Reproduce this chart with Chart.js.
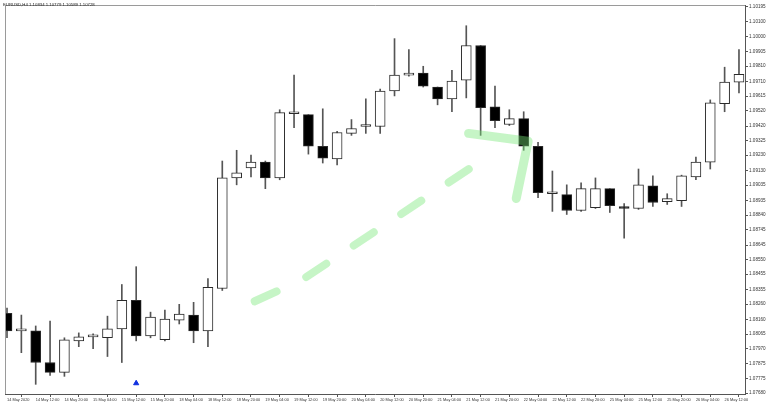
<!DOCTYPE html>
<html>
<head>
<meta charset="utf-8">
<title>EURUSD,H4</title>
<script src="https://cdn.jsdelivr.net/npm/chart.js@4.4.1/dist/chart.umd.min.js"></script>
<style>
  html, body { margin: 0; padding: 0; background: #fff; }
  #wrap { position: relative; width: 768px; height: 406px; }
  #caption { position: absolute; left: 3px; top: 2px; font: 4.3px "Liberation Sans", Arial, sans-serif; color: #222; white-space: nowrap; }
</style>
</head>
<body>
<div id="wrap">
  <canvas id="chart" width="768" height="406"></canvas>
  <div id="caption">EURUSD,H4 1.10834 1.10779 1.10589 1.10728</div>
</div>
<script>
// time labels, one every second H4 bar
const dateLabels = [
    '14 May 2020', '14 May 12:00', '14 May 20:00', '15 May 04:00', '15 May 12:00', '15 May 20:00',
    '18 May 04:00', '18 May 12:00', '18 May 20:00', '19 May 04:00', '19 May 12:00', '19 May 20:00',
    '20 May 04:00', '20 May 12:00', '20 May 20:00', '21 May 04:00', '21 May 12:00', '21 May 20:00',
    '22 May 04:00', '22 May 12:00', '22 May 20:00', '25 May 04:00', '25 May 12:00', '25 May 20:00',
    '26 May 04:00', '26 May 12:00'
];

const priceTicks = [
    1.10195, 1.10100, 1.10000, 1.09905, 1.09810, 1.09710, 1.09615, 1.09520, 1.09420,
    1.09325, 1.09230, 1.09130, 1.09035, 1.08935, 1.08840, 1.08745, 1.08645, 1.08550,
    1.08455, 1.08355, 1.08260, 1.08160, 1.08065, 1.07970, 1.07875, 1.07775, 1.07680
];

const opens = [
    1.08201, 1.08086, 1.08086, 1.07880, 1.07816, 1.08021, 1.08047, 1.08041, 1.08099, 1.08285,
    1.08054, 1.08028, 1.08156, 1.08189, 1.08086, 1.08362, 1.09082, 1.09147, 1.09185, 1.09082,
    1.09500, 1.09494, 1.09288, 1.09205, 1.09372, 1.09417, 1.09417, 1.09648, 1.09751, 1.09764,
    1.09674, 1.09597, 1.09719, 1.09944, 1.09545, 1.09430, 1.09468, 1.09288, 1.08979, 1.08973,
    1.08870, 1.08889, 1.09012, 1.08896, 1.08883, 1.09031, 1.08928, 1.08934, 1.09089, 1.09185,
    1.09565, 1.09706
];
const closes = [
    1.08086, 1.08086, 1.07880, 1.07816, 1.08028, 1.08047, 1.08047, 1.08099, 1.08285, 1.08054,
    1.08176, 1.08163, 1.08195, 1.08086, 1.08369, 1.09082, 1.09115, 1.09185, 1.09082, 1.09507,
    1.09500, 1.09288, 1.09211, 1.09378, 1.09404, 1.09417, 1.09648, 1.09751, 1.09751, 1.09680,
    1.09597, 1.09712, 1.09944, 1.09539, 1.09455, 1.09468, 1.09288, 1.08986, 1.08979, 1.08870,
    1.09012, 1.09012, 1.08902, 1.08883, 1.09037, 1.08922, 1.08947, 1.09095, 1.09185, 1.09571,
    1.09706, 1.09757
];
const highs = [
    1.08234, 1.08189, 1.08118, 1.08150, 1.08041, 1.08073, 1.08066, 1.08182, 1.08388, 1.08504,
    1.08208, 1.08221, 1.08259, 1.08272, 1.08427, 1.09192, 1.09262, 1.09230, 1.09192, 1.09526,
    1.09751, 1.09494, 1.09532, 1.09385, 1.09462, 1.09597, 1.09661, 1.09989, 1.09918, 1.09809,
    1.09674, 1.09783, 1.10073, 1.09944, 1.09680, 1.09526, 1.09513, 1.09314, 1.09127, 1.09037,
    1.09050, 1.09082, 1.09012, 1.08915, 1.09140, 1.09095, 1.08979, 1.09100, 1.09217, 1.09590,
    1.09803, 1.09918
];
const lows = [
    1.08041, 1.07944, 1.07738, 1.07796, 1.07790, 1.07983, 1.07970, 1.07919, 1.07880, 1.08021,
    1.08041, 1.08021, 1.08131, 1.08009, 1.07983, 1.08349, 1.09037, 1.09089, 1.09012, 1.09070,
    1.09410, 1.09237, 1.09179, 1.09166, 1.09359, 1.09372, 1.09372, 1.09616, 1.09745, 1.09674,
    1.09558, 1.09513, 1.09603, 1.09359, 1.09410, 1.09423, 1.09262, 1.08954, 1.08864, 1.08844,
    1.08864, 1.08883, 1.08857, 1.08690, 1.08877, 1.08896, 1.08909, 1.08896, 1.09070, 1.09140,
    1.09513, 1.09635
];

// blue buy arrow under the 15 May 12:00 bar
const arrowBar = [9];
const arrowPrice = [1.07745];

// hand drawn green marks (bar index, price)
const trendX = [17.26, 20.58, 33.75];
const trendY = [1.08279, 1.08420, 1.09237];
const hookX = [32.16, 36.31, 35.48];
const hookY = [1.09372, 1.09321, 1.08948];

const greenInk = 'rgba(120, 230, 120, 0.42)';
const priceFont = { family: "'Liberation Sans', Arial, sans-serif", size: 4.6 };
const dateFont = { family: "'Liberation Sans', Arial, sans-serif", size: 3.9 };

function toPoints(xs, ys) {
    return xs.map((x, i) => ({ x: x, y: ys[i] }));
}

const frame = {
    id: 'frame',
    afterDraw(chart) {
        const { ctx, chartArea } = chart;
        ctx.save();
        ctx.strokeStyle = '#9a9a9a';
        ctx.lineWidth = 1;
        ctx.beginPath();
        ctx.moveTo(chartArea.left + 0.5, chartArea.bottom);
        ctx.lineTo(chartArea.left + 0.5, chartArea.top + 0.5);
        ctx.lineTo(chartArea.right, chartArea.top + 0.5);
        ctx.stroke();
        ctx.restore();
    }
};

const ctx = document.getElementById('chart').getContext('2d');
new Chart(ctx, {
    type: 'bar',
    data: {
        datasets: [
            {
                type: 'line',
                order: 0,
                data: toPoints(trendX, trendY),
                borderColor: greenInk,
                borderWidth: 8,
                borderDash: [24, 33],
                borderCapStyle: 'round',
                pointRadius: 0
            },
            {
                type: 'line',
                order: 0,
                data: toPoints(hookX, hookY),
                borderColor: greenInk,
                borderWidth: 9,
                borderCapStyle: 'round',
                borderJoinStyle: 'round',
                pointRadius: 0
            },
            {
                type: 'scatter',
                order: 1,
                data: toPoints(arrowBar, arrowPrice),
                pointStyle: 'triangle',
                pointRadius: 3,
                backgroundColor: '#1030e0',
                borderColor: '#1030e0'
            },
            {
                order: 2,
                grouped: false,
                data: opens.map((o, i) => ({ x: i, y: [o, closes[i]] })),
                backgroundColor: opens.map((o, i) => closes[i] < o ? '#000000' : '#ffffff'),
                borderColor: '#2a2a2a',
                borderWidth: 1,
                borderSkipped: false,
                barThickness: 10,
                minBarLength: 2
            },
            {
                order: 3,
                grouped: false,
                data: lows.map((l, i) => ({ x: i, y: [l, highs[i]] })),
                backgroundColor: '#555555',
                barThickness: 1
            }
        ]
    },
    options: {
        responsive: false,
        animation: false,
        layout: { padding: { left: 1, top: 1 } },
        plugins: {
            legend: { display: false },
            tooltip: { enabled: false }
        },
        scales: {
            x: {
                type: 'linear',
                offset: false,
                min: -0.14,
                max: 51.42,
                afterBuildTicks: (scale) => {
                    scale.ticks = dateLabels.map((_, i) => ({ value: i * 2 }));
                },
                afterFit: (scale) => { scale.height = 12; },
                ticks: {
                    autoSkip: false,
                    maxRotation: 0,
                    align: 'start',
                    padding: 1,
                    color: '#333',
                    font: dateFont,
                    callback: (value) => dateLabels[Math.round(value / 2)]
                },
                grid: { drawOnChartArea: false, tickLength: 3, color: '#555' },
                border: { color: '#555', width: 1 }
            },
            y: {
                position: 'right',
                min: 1.07675,
                max: 1.10208,
                afterBuildTicks: (scale) => {
                    scale.ticks = priceTicks.map(v => ({ value: v }));
                },
                afterFit: (scale) => { scale.width = 23; },
                ticks: {
                    autoSkip: false,
                    padding: 1,
                    color: '#333',
                    font: priceFont,
                    callback: (value) => value.toFixed(5)
                },
                grid: { drawOnChartArea: false, tickLength: 3, color: '#555' },
                border: { color: '#555', width: 1 }
            }
        }
    },
    plugins: [frame]
});
</script>
</body>
</html>
